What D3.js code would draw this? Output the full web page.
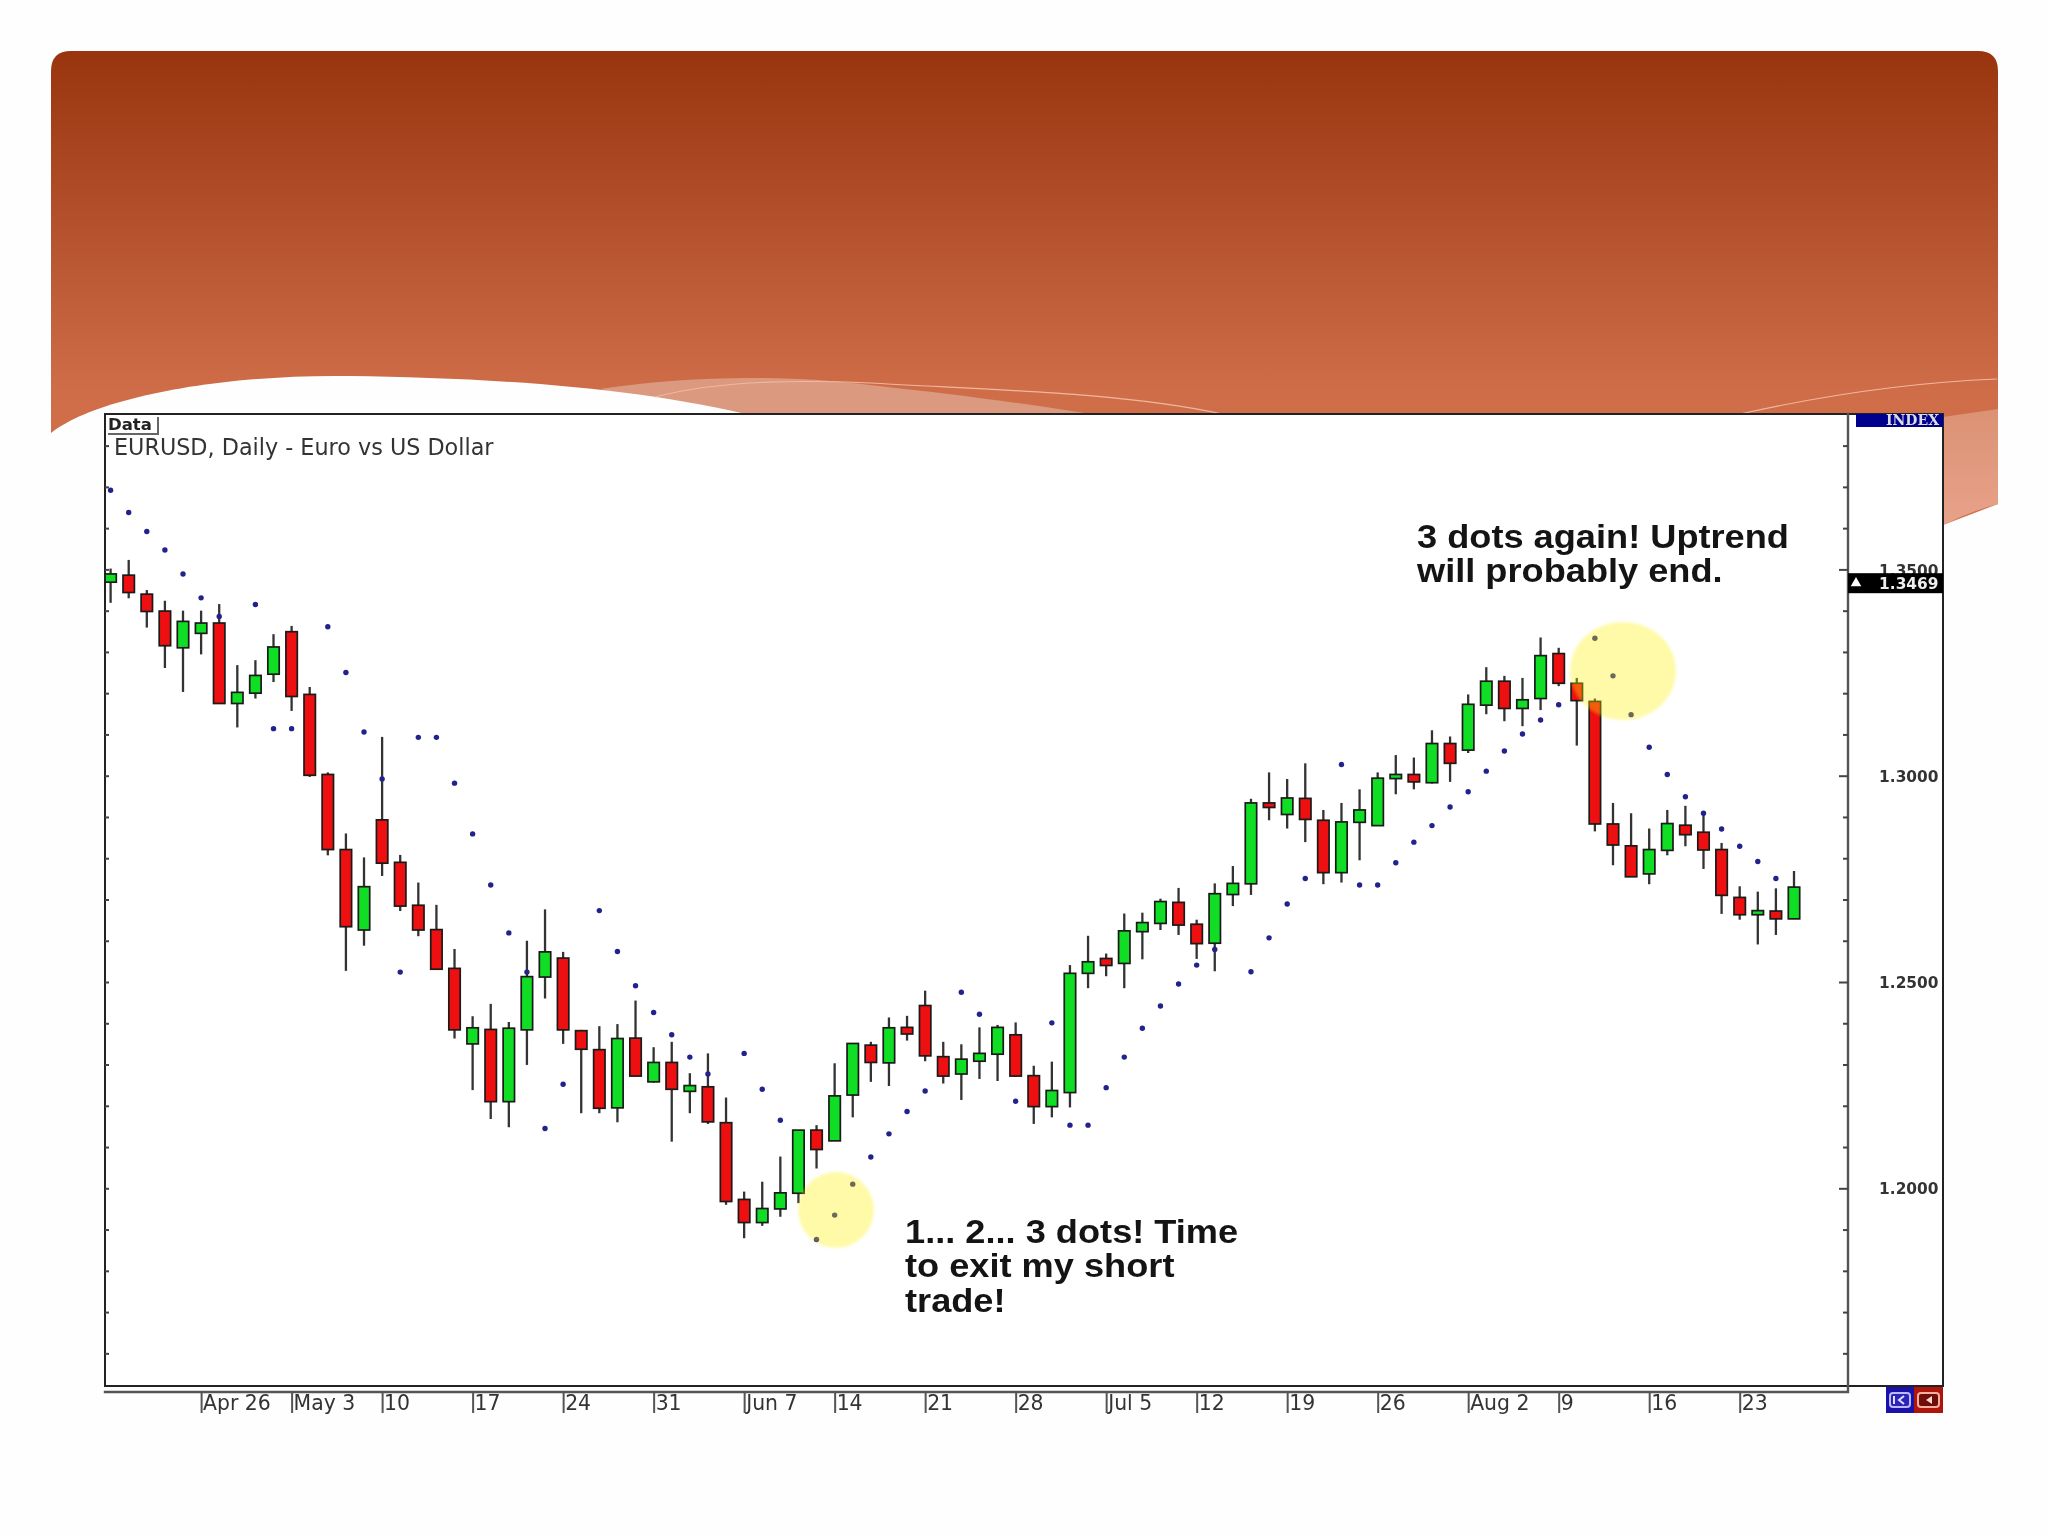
<!DOCTYPE html>
<html><head><meta charset="utf-8">
<script src="https://cdn.jsdelivr.net/npm/d3@7"></script>
<style>html,body{margin:0;padding:0;background:#fff}svg{display:block;filter:blur(0.6px)}</style>
</head><body><svg id="c" width="2048" height="1536"></svg>
<script>
const title = "EURUSD, Daily - Euro vs US Dollar";
const highs = [1.3502,1.3523,1.3450,1.3424,1.3400,1.3400,1.3416,1.3268,1.3280,1.3343,
1.3363,1.3215,1.3008,1.2860,1.2802,1.3094,1.2808,1.2741,1.2687,1.2580,
1.2417,1.2447,1.2403,1.2600,1.2676,1.2573,1.2384,1.2393,1.2398,1.2455,
1.2342,1.2355,1.2279,1.2327,1.2220,1.1992,1.2016,1.2077,1.2141,1.2153,
1.2303,1.2351,1.2355,1.2414,1.2418,1.2479,1.2355,1.2349,1.2390,1.2396,
1.2402,1.2297,1.2307,1.2541,1.2612,1.2569,1.2666,1.2668,1.2702,1.2728,
1.2651,1.2739,1.2781,1.2944,1.3008,1.2992,1.3030,1.2917,1.2934,1.2967,
1.3008,1.3050,1.3044,1.3110,1.3095,1.3197,1.3263,1.3242,1.3237,1.3335,
1.3310,1.3237,1.3187,1.2934,1.2909,1.2872,1.2917,1.2927,1.2914,1.2837,
1.2732,1.2719,1.2727,1.2769];
const lows = [1.3419,1.3430,1.3359,1.3261,1.3203,1.3294,1.3175,1.3117,1.3187,1.3227,
1.3157,1.2997,1.2807,1.2527,1.2588,1.2757,1.2672,1.2611,1.2531,1.2363,
1.2238,1.2168,1.2148,1.2299,1.2460,1.2350,1.2182,1.2182,1.2160,1.2272,
1.2256,1.2113,1.2182,1.2156,1.1960,1.1879,1.1909,1.1931,1.1964,1.2048,
1.2115,1.2172,1.2258,1.2248,1.2358,1.2308,1.2254,1.2214,1.2265,1.2260,
1.2270,1.2156,1.2172,1.2196,1.2485,1.2514,1.2485,1.2555,1.2626,1.2614,
1.2556,1.2526,1.2684,1.2711,1.2892,1.2872,1.2839,1.2737,1.2741,1.2795,
1.2879,1.2955,1.2967,1.2981,1.2985,1.3055,1.3149,1.3132,1.3120,1.3159,
1.3217,1.3073,1.2865,1.2783,1.2755,1.2737,1.2807,1.2829,1.2774,1.2665,
1.2651,1.2591,1.2614,1.2653];
const opens = [1.3469,1.3486,1.3440,1.3399,1.3310,1.3345,1.3370,1.3175,1.3200,1.3246,
1.3349,1.3197,1.3003,1.2821,1.2626,1.2893,1.2790,1.2686,1.2627,1.2533,
1.2350,1.2385,1.2210,1.2384,1.2512,1.2558,1.2382,1.2336,1.2195,1.2364,
1.2258,1.2305,1.2235,1.2246,1.2159,1.1973,1.1917,1.1950,1.1988,1.2141,
1.2115,1.2226,1.2347,1.2304,1.2390,1.2443,1.2319,1.2277,1.2308,1.2325,
1.2372,1.2273,1.2198,1.2232,1.2521,1.2557,1.2545,1.2622,1.2642,1.2693,
1.2640,1.2594,1.2712,1.2738,1.2934,1.2906,1.2945,1.2892,1.2765,1.2887,
1.2879,1.2993,1.3003,1.2983,1.3078,1.3062,1.3171,1.3229,1.3163,1.3187,
1.3296,1.3224,1.3180,1.2883,1.2830,1.2762,1.2819,1.2880,1.2863,1.2821,
1.2705,1.2663,1.2672,1.2653];
const closes = [1.3489,1.3444,1.3398,1.3315,1.3374,1.3370,1.3175,1.3202,1.3243,1.3312,
1.3192,1.3001,1.2821,1.2634,1.2731,1.2788,1.2684,1.2626,1.2531,1.2384,
1.2389,1.2210,1.2388,1.2513,1.2573,1.2384,1.2337,1.2194,1.2363,1.2272,
1.2305,1.2240,1.2249,1.2161,1.1968,1.1917,1.1951,1.1989,1.2141,1.2094,
1.2224,1.2351,1.2305,1.2389,1.2374,1.2321,1.2272,1.2313,1.2327,1.2390,
1.2272,1.2198,1.2237,1.2521,1.2549,1.2540,1.2624,1.2644,1.2695,1.2638,
1.2593,1.2714,1.2739,1.2934,1.2923,1.2946,1.2894,1.2765,1.2888,1.2917,
1.2994,1.3003,1.2985,1.3078,1.3030,1.3173,1.3229,1.3163,1.3184,1.3291,
1.3224,1.3182,1.2883,1.2832,1.2755,1.2821,1.2884,1.2857,1.2820,1.2710,
1.2663,1.2673,1.2653,1.2730];
const sarDots = [1.3692,1.3638,1.3592,1.3547,1.3489,1.3431,1.3386,null,1.3415,1.3114,
1.3114,null,1.3361,1.3250,1.3106,1.2992,1.2524,1.3093,1.3093,1.2982,
1.2859,1.2735,1.2619,1.2524,1.2145,1.2252,null,1.2673,1.2574,1.2491,
1.2426,1.2372,1.2318,1.2277,null,1.2327,1.2240,1.2165,null,1.1876,
1.1935,1.2010,1.2076,1.2132,1.2186,1.2236,null,1.2475,1.2422,null,
1.2211,null,1.2401,1.2153,1.2153,1.2244,1.2318,1.2388,1.2442,1.2495,
1.2541,1.2579,null,1.2525,1.2607,1.2689,1.2751,null,1.3027,1.2735,
1.2735,1.2789,1.2839,1.2879,1.2924,1.2961,1.3011,1.3060,1.3101,1.3135,
1.3172,null,1.3333,1.3242,1.3148,1.3069,1.3003,1.2949,1.2909,1.2871,
1.2829,1.2792,1.2751,null];
const xTickIndex = [5,10,15,20,25,30,35,40,45,50,55,60,65,70,75,80,85,90];
const xTickLabels = ["Apr 26","May 3","10","17","24","31","Jun 7","14","21","28","Jul 5","12","19","26","Aug 2","9","16","23"];
const yMajor = [1.20,1.25,1.30,1.35];
const yMinor = [1.16,1.17,1.18,1.19,1.21,1.22,1.23,1.24,1.26,1.27,1.28,1.29,1.31,1.32,1.33,1.34,1.36,1.37,1.38];
const lastPrice = 1.3469;
const noteOne = ["1... 2... 3 dots! Time","to exit my short","trade!"];
const noteTwo = ["3 dots again! Uptrend","will probably end."];

const svg = d3.select("#c");
const defs = svg.append("defs");
const g = defs.append("linearGradient").attr("id","band").attr("x1",0).attr("y1",0).attr("x2",0).attr("y2",1);
g.append("stop").attr("offset","0").attr("stop-color","#98350F");
g.append("stop").attr("offset","0.62").attr("stop-color","#CF6D49");
g.append("stop").attr("offset","1").attr("stop-color","#D3744F");
const lg = defs.append("linearGradient").attr("id","light").attr("x1",0).attr("y1",0).attr("x2",0).attr("y2",1);
lg.append("stop").attr("offset","0").attr("stop-color","#DB9274");
lg.append("stop").attr("offset","1").attr("stop-color","#E8A28A");
const soft = defs.append("filter").attr("id","soft").attr("x","-20%").attr("y","-20%").attr("width","140%").attr("height","140%");
soft.append("feGaussianBlur").attr("stdDeviation",1.5);

svg.append("rect").attr("width",2048).attr("height",1536).attr("fill","#fefefe");
// slide band
svg.append("path").attr("fill","url(#band)")
 .attr("d","M51,433 L51,71 Q51,51 71,51 L1978,51 Q1998,51 1998,71 L1998,504 L1943,525 L1943,600 L105,600 L105,425 Z");
// light swooshes
svg.append("path").attr("fill","#DB9A80")
 .attr("d","M600,389 C690,375 790,375 870,385 C960,395 1040,405 1112,418 L740,418 Z");
svg.append("path").attr("fill","url(#light)")
 .attr("d","M1943,417 L1998,409 L1998,504 C1975,510 1960,517 1943,525 Z");
// white swoosh
svg.append("path").attr("fill","#fefefe")
 .attr("d","M51,433 C95,398 220,374 350,376 C480,378 630,385 762,418 L105,440 Z");
// thin lines
svg.append("path").attr("fill","none").attr("stroke","#F0B89E").attr("stroke-width",1.2)
 .attr("d","M655,397 C720,380 800,380 870,383 C990,390 1120,392 1222,414");
svg.append("path").attr("fill","none").attr("stroke","#F0B89E").attr("stroke-width",1.2)
 .attr("d","M1740,414 C1830,394 1920,382 1997,379");

// chart panel
const L=105,T=414,R=1943,axisX=1848,B1=1386,B2=1392;
svg.append("rect").attr("x",L).attr("y",T).attr("width",R-L).attr("height",B1-T).attr("fill","#fff");

const y = d3.scaleLinear().domain([1.3,1.2]).range([775.7,1188.3]);
const x = d3.scaleLinear().domain([0,93]).range([110.6,1794]);
const FONT = "'DejaVu Sans',Verdana,sans-serif";
const ink = "#333";

const clip = defs.append("clipPath").attr("id","plot");
clip.append("rect").attr("x",L).attr("y",T).attr("width",axisX-L).attr("height",B1-T);

const idx = d3.range(highs.length);
const marks = svg.append("g").attr("clip-path","url(#plot)");
marks.selectAll("line.w").data(idx).join("line").attr("class","w")
 .attr("x1",i=>x(i)).attr("x2",i=>x(i)).attr("y1",i=>y(highs[i])).attr("y2",i=>y(lows[i]))
 .attr("stroke","#333").attr("stroke-width",2.3);
marks.selectAll("rect.b").data(idx).join("rect").attr("class","b")
 .attr("x",i=>x(i)-5.7).attr("width",11.4)
 .attr("y",i=>y(Math.max(opens[i],closes[i])))
 .attr("height",i=>Math.max(2,Math.abs(y(opens[i])-y(closes[i]))))
 .attr("fill",i=>closes[i]>=opens[i]?"#0FDE24":"#EE0F10")
 .attr("stroke","#1a1a1a").attr("stroke-width",1.7);
marks.selectAll("circle.s").data(idx.filter(i=>sarDots[i]!==null)).join("circle").attr("class","s")
 .attr("cx",i=>x(i)).attr("cy",i=>y(sarDots[i])).attr("r",2.7).attr("fill","#22228C");

// highlight circles
const spot = svg.append("g").attr("filter","url(#soft)");
spot.append("ellipse").attr("cx",836).attr("cy",1210).attr("rx",38).attr("ry",38).attr("fill","#FFF000").attr("opacity",0.34);
spot.append("ellipse").attr("cx",1623).attr("cy",671).attr("rx",53).attr("ry",49).attr("fill","#FFF000").attr("opacity",0.34);

// frame
const frame = svg.append("g").attr("fill","none").attr("stroke-linecap","square");
frame.append("path").attr("stroke","#222").attr("stroke-width",2)
 .attr("d",`M${L},${B1} L${L},${T} L${R},${T} L${R},${B1} L${axisX},${B1} L${L},${B1}`);
frame.append("path").attr("stroke","#555").attr("stroke-width",2.4)
 .attr("d",`M${axisX},${T} L${axisX},${B2} L${L},${B2}`);

// y axis, right
const axisStyle = s=>{s.select(".domain").remove();s.selectAll("line").attr("stroke","#444").attr("stroke-width",2);};
svg.append("g").attr("transform",`translate(${axisX},0)`)
 .call(d3.axisLeft(y).tickValues(yMinor).tickSize(5).tickFormat("")).call(axisStyle);
svg.append("g").attr("transform",`translate(${axisX},0)`)
 .call(d3.axisLeft(y).tickValues(yMajor).tickSize(9).tickFormat("")).call(axisStyle);
// y ticks, left border
svg.append("g").attr("transform",`translate(${L},0)`)
 .call(d3.axisRight(y).tickValues(yMinor.concat(yMajor)).tickSize(4).tickFormat("")).call(axisStyle);
// y labels
svg.append("g").selectAll("text").data(yMajor).join("text")
 .attr("x",1938.5).attr("y",d=>y(d)+(d===1.35?7:6)).attr("text-anchor","end")
 .attr("font-family",FONT).attr("font-weight","bold").attr("font-size",15.4).attr("fill",ink)
 .text(d=>d3.format(".4f")(d));

// current price box
const py = y(lastPrice)+1;
svg.append("rect").attr("x",axisX).attr("y",py-10).attr("width",R-axisX).attr("height",20).attr("fill","#000");
svg.append("path").attr("fill","#fff").attr("d",d3.symbol(d3.symbolTriangle,48)).attr("transform",`translate(1856,${py})`);
svg.append("text").attr("x",1938.5).attr("y",py+6).attr("text-anchor","end")
 .attr("font-family",FONT).attr("font-weight","bold").attr("font-size",15.4).attr("fill","#eee").text(lastPrice.toFixed(4));

// INDEX
svg.append("rect").attr("x",1856).attr("y",T).attr("width",R-1856).attr("height",13).attr("fill","#00008E");
svg.append("text").attr("x",1939).attr("y",T+11).attr("text-anchor","end")
 .attr("font-family","'DejaVu Serif',serif").attr("font-weight","bold").attr("font-size",14).attr("fill","#ddd").text("INDEX");

// x axis
const xa = svg.append("g").attr("transform",`translate(0,${B2})`)
 .call(d3.axisBottom(x).tickValues(xTickIndex).tickSize(21).tickFormat(""));
xa.select(".domain").remove();
xa.selectAll("line").attr("stroke","#555").attr("stroke-width",2);
svg.append("g").selectAll("text").data(xTickIndex).join("text")
 .attr("x",i=>x(i)+2).attr("y",1410)
 .attr("font-family",FONT).attr("font-size",20.4).attr("fill",ink)
 .text((d,j)=>xTickLabels[j]);

// buttons
svg.append("rect").attr("x",1886).attr("y",B1+1).attr("width",28).attr("height",26).attr("fill","#1A12A8");
svg.append("rect").attr("x",1914).attr("y",B1+1).attr("width",29).attr("height",26).attr("fill","#B0150C");
svg.append("rect").attr("x",1890).attr("y",B1+7).attr("width",20).attr("height",14).attr("rx",3).attr("fill","#2a24b8").attr("stroke","#BDB8FF").attr("stroke-width",2);
svg.append("rect").attr("x",1918).attr("y",B1+7).attr("width",21).attr("height",14).attr("rx",3).attr("fill","#6F0D08").attr("stroke","#F5B0A0").attr("stroke-width",2);
svg.append("path").attr("fill","none").attr("stroke","#E0DEFF").attr("stroke-width",2).attr("d",`M1894,${B1+10} v8 M1904,${B1+10} l-5,4 l5,4`);
svg.append("path").attr("fill","#F8D8D0").attr("d",`M1926,${B1+14} l6,-4 v8 Z`);

// Data tag + title
svg.append("path").attr("fill","none").attr("stroke","#666").attr("stroke-width",2).attr("d","M108,434 L158,434 L158,417");
svg.append("text").attr("x",108).attr("y",430).attr("font-family",FONT).attr("font-weight","bold").attr("font-size",16.5).attr("fill","#222").text("Data");
svg.append("text").attr("x",114).attr("y",455).attr("font-family",FONT).attr("font-size",22.3).attr("fill",ink).text(title);

// notes
const note = (lines,px,py0)=>svg.append("g").selectAll("text").data(lines).join("text")
 .attr("transform",(d,i)=>`translate(${px},${py0+i*34.3}) scale(1.097,1)`)
 .attr("font-family","'Liberation Sans',Arial,sans-serif").attr("font-weight","bold").attr("font-size",33).attr("fill","#141414")
 .text(d=>d);
note(noteOne,905,1243);
note(noteTwo,1417,548);
</script></body></html>
